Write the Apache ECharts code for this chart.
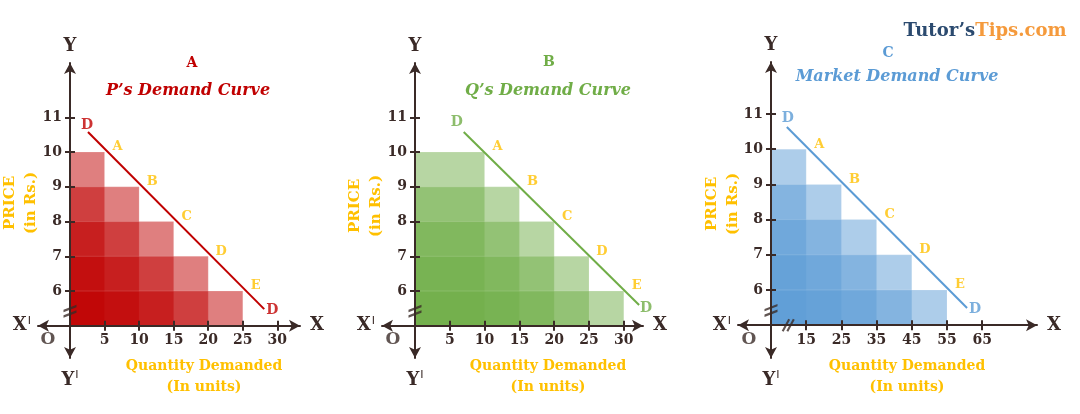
<!DOCTYPE html>
<html><head><meta charset="utf-8">
<script src="https://cdn.jsdelivr.net/npm/echarts@6/dist/echarts.min.js"></script>
<style>html,body{margin:0;padding:0;background:#fff}#c{width:1080px;height:414px}</style>
</head><body><div id="c"></div>
<script>
// ---------- DATA ----------
const priceTicks = [6, 7, 8, 9, 10, 11];
const qtyTicksP = [5, 10, 15, 20, 25, 30];
const qtyTicksQ = [5, 10, 15, 20, 25, 30];
const qtyTicksM = [15, 25, 35, 45, 55, 65];
const pointLabels = ['A', 'B', 'C', 'D', 'E'];
const prices = [10, 9, 8, 7, 6];
const qtyP = [5, 10, 15, 20, 25];
const qtyQ = [10, 15, 20, 25, 30];
const qtyM = [15, 25, 35, 45, 55];
const curveP = [[2.6, 10.58], [28.1, 5.48]];
const curveQ = [[7.0, 10.58], [32.2, 5.6]];
const curveM = [[9.5, 10.63], [60.7, 5.49]];
const originP = [0, 5];
const originQ = [0, 5];
const originM = [5, 5];
const titles = ['A', 'B', 'C'];
const subtitles = ['P’s Demand Curve', 'Q’s Demand Curve', 'Market Demand Curve'];

// ---------- STYLE / LAYOUT ----------
const FONT = 'DejaVu Serif';
const DARK = '#3a2a27';
const ORANGE = '#FFC000';
const panels = [
  {qty: qtyP, ticks: qtyTicksP, curve: curveP, origin: originP, color: '#c00000', fill: 'rgba(192,0,0,0.5)',
   oxPx: 70, sx: 6.912, oyPx: 325.8, sy: 34.74, left: 38, right: 300, top: 63, bottom: 358,
   endOff: [[-1, -7], [8, 1]], title: [192, 63.5], sub: [188, 91], price: [10, 31, 203], qtyLbl: [204, 366]},
  {qty: qtyQ, ticks: qtyTicksQ, curve: curveQ, origin: originQ, color: '#70ad47', fill: 'rgba(112,173,71,0.5)',
   oxPx: 415, sx: 6.96, oyPx: 325.8, sy: 34.74, left: 382, right: 643, top: 63, bottom: 358,
   endOff: [[-7, -10], [7, 3]], title: [549, 62], sub: [548, 91], price: [355, 376, 206], qtyLbl: [548, 366]},
  {qty: qtyM, ticks: qtyTicksM, curve: curveM, origin: originM, color: '#5b9bd5', fill: 'rgba(91,155,213,0.5)',
   oxPx: 771, sx: 3.52, oyPx: 325.2, sy: 35.2, left: 738, right: 1037, top: 62, bottom: 358,
   endOff: [[1, -9], [8, 1]], title: [888, 53], sub: [897, 77], price: [712, 733, 204], qtyLbl: [907, 366], xBreak: true}
];

const grids = [], xAxes = [], yAxes = [], series = [], graphics = [];
const yBreakPath = 'path://M0,5 L13,0 L13,2.4 L0,7.4 Z M0,10.5 L13,5.5 L13,7.9 L0,12.9 Z';
const xBreakPath = 'path://M0,12 L7,0 L9,1 L2,13 Z M5,12 L12,0 L14,1 L7,13 Z';

panels.forEach((p, i) => {
  const ox = p.origin[0], oy = p.origin[1];
  const xmin = ox + (p.left - p.oxPx) / p.sx, xmax = ox + (p.right - p.oxPx) / p.sx;
  const ymax = oy + (p.oyPx - p.top) / p.sy, ymin = oy - (p.bottom - p.oyPx) / p.sy;
  grids.push({left: p.left, top: p.top, width: p.right - p.left, height: p.bottom - p.top, containLabel: false});
  const xOff = -(p.bottom - p.oyPx), yOff = -(p.oxPx - p.left);
  const axisLine = {show: true, onZero: false, symbol: ['arrow', 'arrow'], symbolSize: [9, 11], lineStyle: {color: DARK, width: 2}};
  const rich = {b: {fontFamily: FONT, fontWeight: 'bold', fontSize: 18, color: DARK}, s: {fontFamily: 'DejaVu Sans', fontSize: 11, color: DARK, padding: [0, 0, 9, 1]}};
  xAxes.push({gridIndex: i, type: 'value', min: xmin, max: xmax, position: 'bottom', offset: xOff, z: 10,
    axisLine, splitLine: {show: false},
    axisTick: {show: true, inside: false, length: 5, customValues: p.ticks, lineStyle: {color: DARK, width: 2}},
    axisLabel: {show: true, customValues: p.ticks, margin: 8, color: DARK, fontFamily: FONT, fontWeight: 'bold', fontSize: 14},
    name: '{b|X}', nameLocation: 'end', nameGap: 10, nameTextStyle: {rich}});
  yAxes.push({gridIndex: i, type: 'value', min: ymin, max: ymax, position: 'left', offset: yOff, z: 10,
    axisLine, splitLine: {show: false},
    axisTick: {show: true, inside: false, length: 5, customValues: priceTicks, lineStyle: {color: DARK, width: 2}},
    axisLabel: {show: true, customValues: priceTicks, margin: 8, color: DARK, fontFamily: FONT, fontWeight: 'bold', fontSize: 14},
    name: '{b|Y}', nameLocation: 'end', nameGap: 8, nameTextStyle: {rich}});
  xAxes.push({gridIndex: i, type: 'value', min: xmin, max: xmax, position: 'bottom', offset: xOff, z: 10,
    axisLine: {show: false, onZero: false}, splitLine: {show: false}, axisLabel: {show: false},
    axisTick: {show: true, inside: true, length: 5, customValues: p.ticks, lineStyle: {color: DARK, width: 2}},
    name: '{b|X}{s|I}', nameLocation: 'start', nameGap: 7, nameTextStyle: {rich}});
  yAxes.push({gridIndex: i, type: 'value', min: ymin, max: ymax, position: 'left', offset: yOff, z: 10,
    axisLine: {show: false, onZero: false}, splitLine: {show: false}, axisLabel: {show: false},
    axisTick: {show: true, inside: true, length: 5, customValues: priceTicks, lineStyle: {color: DARK, width: 2}},
    name: '{b|Y}{s|I}', nameLocation: 'start', nameGap: 12, nameTextStyle: {rich}});

  const xi = i * 2, yi = i * 2;
  series.push({type: 'custom', xAxisIndex: xi, yAxisIndex: yi, z: 1, silent: true,
    data: p.qty.map((q, k) => [q, prices[k]]),
    renderItem: (params, api) => {
      const a = api.coord([ox, oy]);
      const b = api.coord([api.value(0), api.value(1)]);
      return {type: 'rect', shape: {x: a[0], y: b[1], width: b[0] - a[0], height: a[1] - b[1]},
        style: {fill: p.fill, stroke: 'rgba(255,255,255,0.25)', lineWidth: 0.6}};
    }});
  series.push({type: 'line', xAxisIndex: xi, yAxisIndex: yi, z: 3, data: p.curve, showSymbol: false, silent: true,
    lineStyle: {color: p.color, width: 2}});
  series.push({type: 'scatter', xAxisIndex: xi, yAxisIndex: yi, z: 4, silent: true, symbolSize: 1,
    itemStyle: {color: 'rgba(0,0,0,0)'},
    data: p.curve.map((c, k) => ({value: c, label: {show: true, formatter: 'D', position: 'inside', offset: p.endOff[k],
      color: p.color, textBorderWidth: 0, fontFamily: FONT, fontWeight: 'bold', fontSize: 14}}))});
  series.push({type: 'scatter', xAxisIndex: xi, yAxisIndex: yi, z: 4, silent: true, symbolSize: 1,
    itemStyle: {color: 'rgba(0,0,0,0)'},
    data: p.qty.map((q, k) => [q, prices[k], pointLabels[k]]),
    label: {show: true, position: 'inside', offset: [13, -5], formatter: d => d.value[2], textBorderWidth: 0,
      color: ORANGE, fontFamily: FONT, fontWeight: 'bold', fontSize: 13}});
  series.push({type: 'scatter', xAxisIndex: xi, yAxisIndex: yi, z: 4, silent: true, symbolSize: 1,
    itemStyle: {color: 'rgba(0,0,0,0)'}, data: [p.origin],
    label: {show: true, position: 'inside', offset: [-22, 14], formatter: 'O', textBorderWidth: 0,
      color: DARK, fontFamily: FONT, fontWeight: 'bold', fontSize: 17}});
  const breaks = [{value: [ox, oy + 0.42], symbol: yBreakPath, symbolSize: [13, 13]}];
  if (p.xBreak) breaks.push({value: [ox + 4.9, oy], symbol: xBreakPath, symbolSize: [13, 13]});
  series.push({type: 'scatter', xAxisIndex: xi, yAxisIndex: yi, z: 11, silent: true,
    itemStyle: {color: DARK}, data: breaks});

  const t = (text, x, y, fill, size, extra) => Object.assign({type: 'text', x, y, silent: true,
    style: {text, fill, font: `bold ${size}px "${FONT}"`, textAlign: 'center', textVerticalAlign: 'middle'}}, extra || {});
  graphics.push(t(titles[i], p.title[0], p.title[1], p.color, 14));
  graphics.push({type: 'text', x: p.sub[0], y: p.sub[1], silent: true,
    style: {text: subtitles[i], fill: p.color, font: `italic bold 16px "${FONT}"`, textAlign: 'center', textVerticalAlign: 'middle'}});
  graphics.push(t('PRICE', p.price[0], p.price[2], ORANGE, 15, {rotation: Math.PI / 2}));
  graphics.push(t('(in Rs.)', p.price[1], p.price[2], ORANGE, 15, {rotation: Math.PI / 2}));
  graphics.push(t('Quantity Demanded', p.qtyLbl[0], p.qtyLbl[1], ORANGE, 14));
  graphics.push(t('(In units)', p.qtyLbl[0], p.qtyLbl[1] + 21, ORANGE, 14));
});

graphics.push({type: 'text', x: 985, y: 31, silent: true,
  style: {text: '{a|Tutor’s}{b|Tips.com}', textAlign: 'center', textVerticalAlign: 'middle',
    rich: {a: {fill: '#2b4a6f', font: `bold 18px "${FONT}"`}, b: {fill: '#f59a3c', font: `bold 18px "${FONT}"`}}}});

const chart = echarts.init(document.getElementById('c'), null, {renderer: 'canvas'});
chart.setOption({
  animation: false,
  backgroundColor: '#ffffff',
  grid: grids, xAxis: xAxes, yAxis: yAxes, series, graphic: graphics
});
</script></body></html>
